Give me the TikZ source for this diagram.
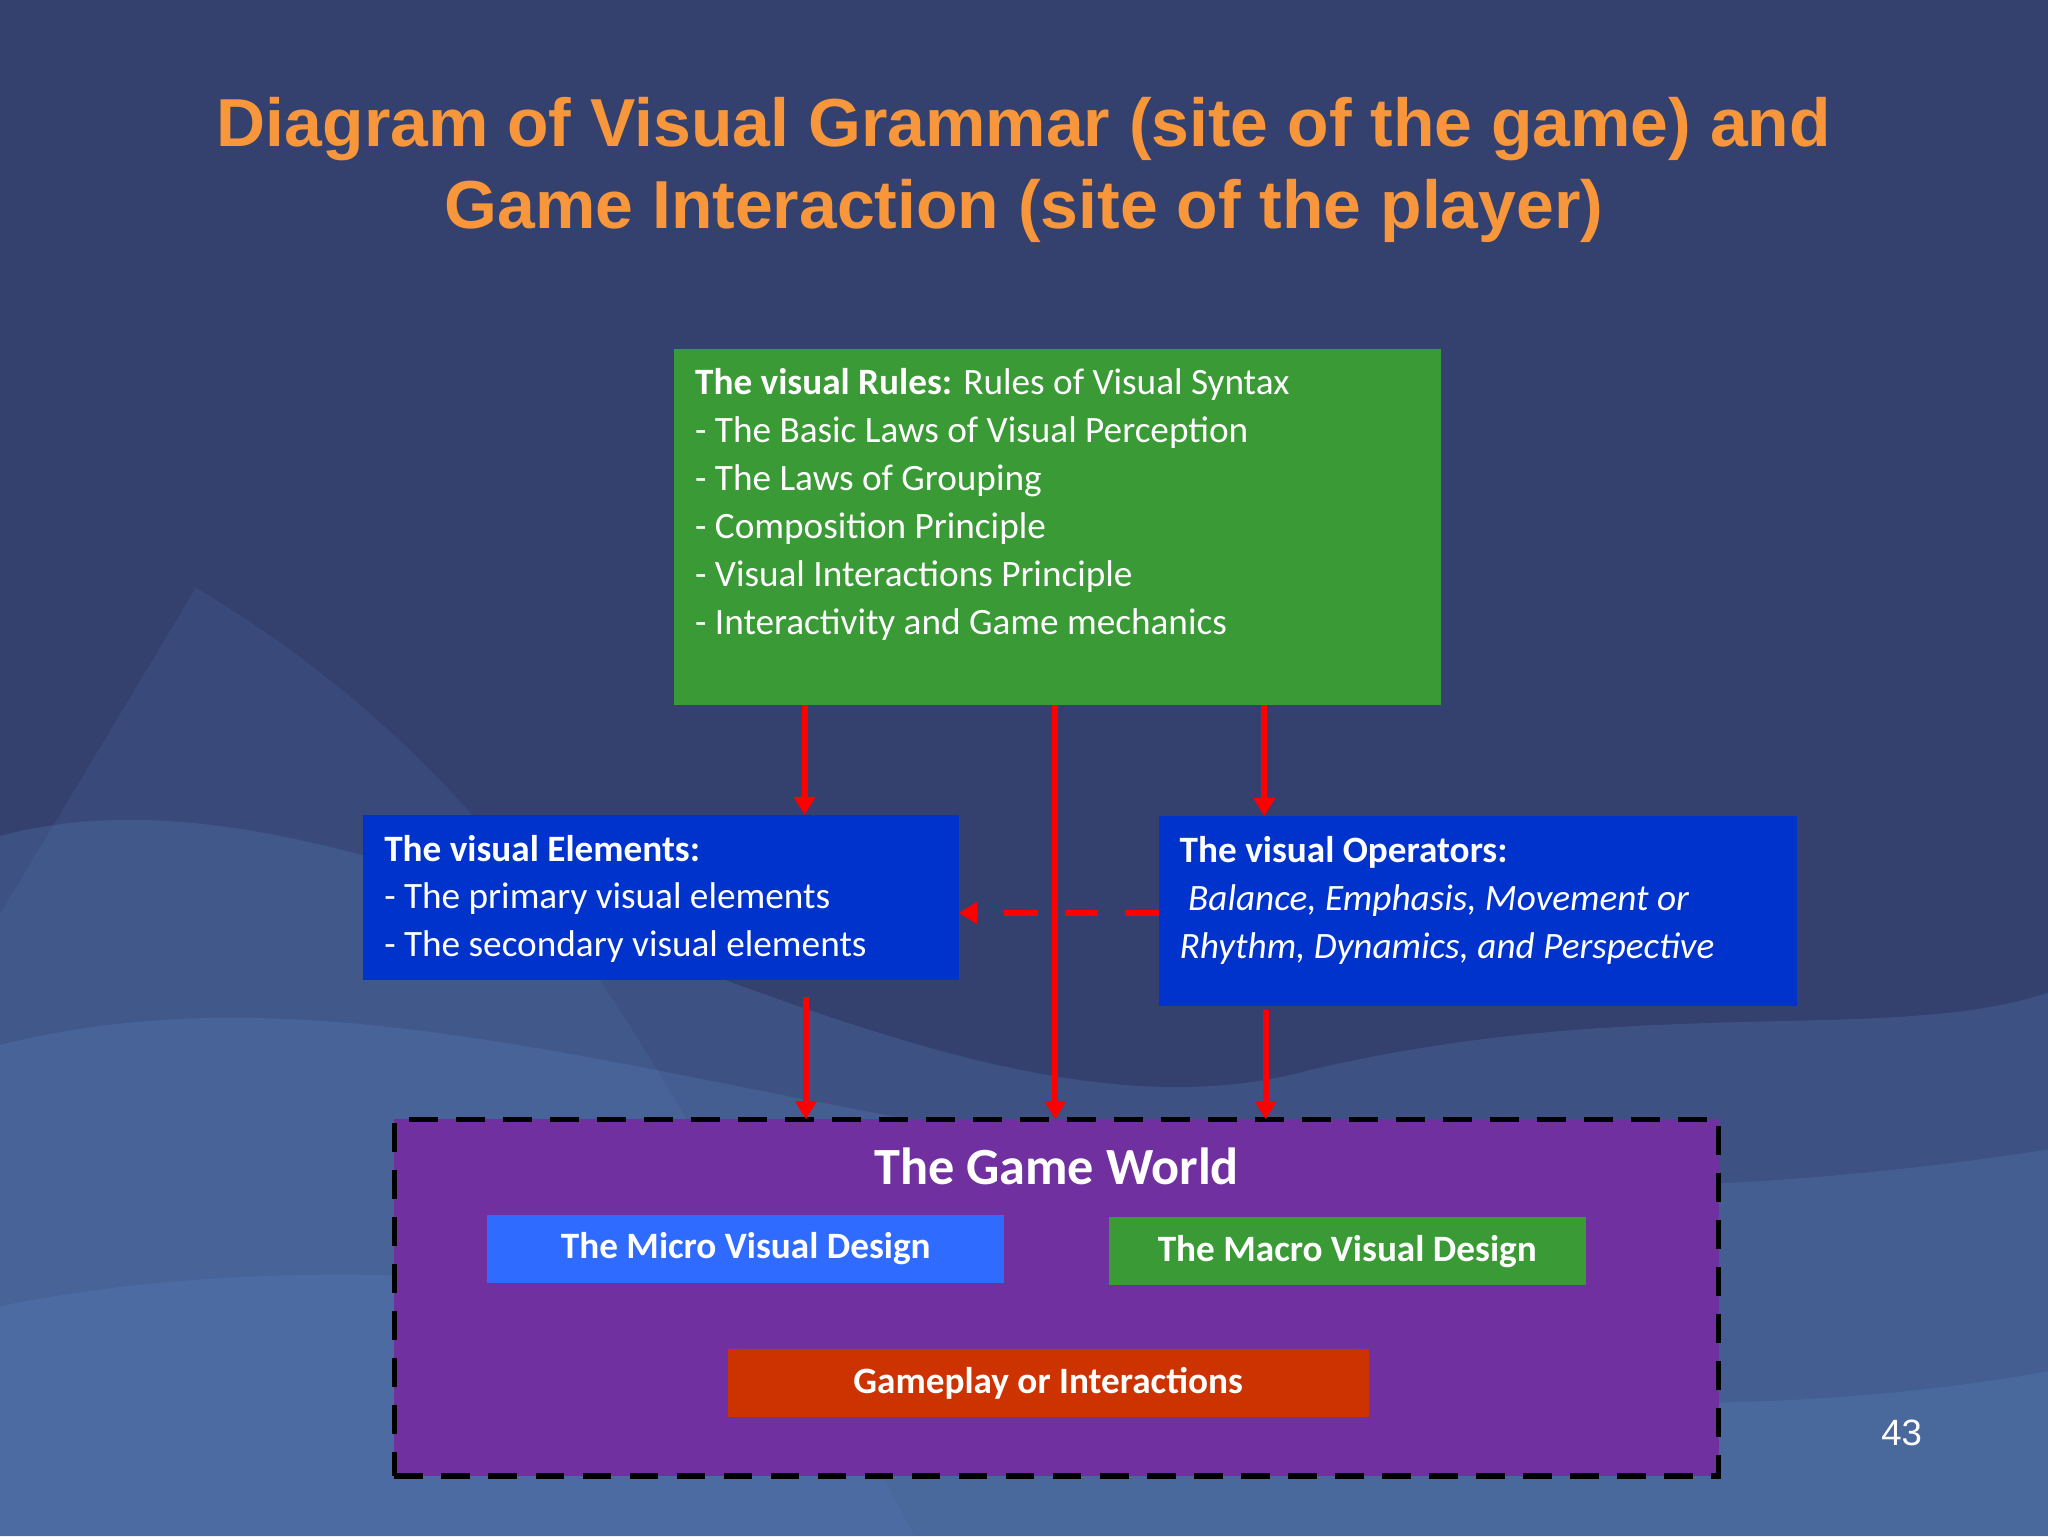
\documentclass[tikz,border=0pt]{standalone}
\usepackage{fontspec}
\setmainfont{Carlito}
\newfontfamily\titlefont{Liberation Sans}
\usetikzlibrary{arrows.meta}
\definecolor{bg}{HTML}{34406E}
\definecolor{bgl}{HTML}{5A86C0}
\definecolor{gbox}{HTML}{3A9A35}
\definecolor{bbox}{HTML}{0033CC}
\definecolor{pbox}{HTML}{7030A0}
\definecolor{mbox}{HTML}{2F6BFF}
\definecolor{obox}{HTML}{CC3300}
\definecolor{ttl}{HTML}{F7963A}
\tikzset{
 box/.style={inner sep=0pt, outer sep=0pt},
 txt/.style={text=white, font=\fontsize{28.5}{36.7}\selectfont, align=left, anchor=north west, inner sep=0pt},
 lbl/.style={text=white, font=\fontsize{28.5}{32}\selectfont\bfseries},
 arr/.style={red, line width=4.5pt, -{Triangle[length=14pt,width=16pt]}},
}
\begin{document}
\begin{tikzpicture}[x=1pt,y=-1pt]
\useasboundingbox (0,0) rectangle (1568,1176);
\fill[bg] (0,0) rectangle (1568,1176);
\fill[bgl,opacity=0.25] (0,640) .. controls (300,560) and (700,900) .. (1000,820) .. controls (1250,760) and (1450,800) .. (1568,760) -- (1568,1176) -- (0,1176) -- cycle;
\fill[bgl,opacity=0.25] (0,800) .. controls (400,700) and (800,1000) .. (1568,880) -- (1568,1176) -- (0,1176) -- cycle;
\fill[bgl,opacity=0.15] (150,450) .. controls (400,600) and (500,800) .. (700,1176) -- (0,1176) -- (0,700) -- cycle;
\fill[bgl,opacity=0.25] (0,1000) .. controls (500,900) and (1000,1150) .. (1568,1050) -- (1568,1176) -- (0,1176) -- cycle;
\node[text=ttl, font=\titlefont\fontsize{52}{63}\selectfont\bfseries, align=center] (title) at (784,130) {Diagram of Visual Grammar (site of the game) and\\Game Interaction (site of the player)};
% boxes
\node[box, fill=gbox, minimum width=587pt, minimum height=273pt, anchor=north west] (rules) at (516,267) {};
\node[txt] (rulest) at (532,282) {\textbf{The visual Rules:} Rules of Visual Syntax\\- The Basic Laws of Visual Perception\\- The Laws of Grouping\\- Composition Principle\\- Visual Interactions Principle\\- Interactivity and Game mechanics};
\node[box, fill=bbox, minimum width=456pt, minimum height=126pt, anchor=north west] (elem) at (278,624) {};
\node[txt] (elemt) at (294,639) {\textbf{The visual Elements:}\\- The primary visual elements\\- The secondary visual elements};
\node[box, fill=bbox, minimum width=489pt, minimum height=145pt, anchor=north west] (oper) at (887,625) {};
\node[txt] (opert) at (903,640) {\textbf{The visual Operators:}\\\itshape\ Balance, Emphasis, Movement or\\\itshape Rhythm, Dynamics, and Perspective};
\node[box, fill=pbox, draw=black, line width=4pt, dash pattern=on 22pt off 14pt, minimum width=1014pt, minimum height=273pt, anchor=north west] (world) at (302,857) {};
\node[text=white, font=\fontsize{40}{42}\selectfont\bfseries] (worldt) at (809,893) {The Game World};
\node[box, fill=mbox, minimum width=396pt, minimum height=52pt, anchor=north west] (micro) at (373,930) {};
\node[lbl] at (micro.center) {The Micro Visual Design};
\node[box, fill=gbox, minimum width=365pt, minimum height=52pt, anchor=north west] (macro) at (849,932) {};
\node[lbl] at (macro.center) {The Macro Visual Design};
\node[box, fill=obox, minimum width=491pt, minimum height=52pt, anchor=north west] (game) at (557,1033) {};
\node[lbl] at (game.center) {Gameplay or Interactions};
\node[text=white, font=\titlefont\fontsize{28}{30}\selectfont] (pg) at (1456,1097) {43};
% arrows
\draw[arr] (rules.south -| 616,0) -- (elem.north -| 616,0);
\draw[arr] (rules.south -| 968,0) -- (oper.north -| 968,0);
\draw[arr] (rules.south -| 808,0) -- (world.north -| 808,0);
\draw[arr] (617,763) -- (world.north -| 617,0);
\draw[arr] (969,773) -- (world.north -| 969,0);
\draw[red, line width=4.5pt, dash pattern=on 26pt off 20pt, -{Triangle[length=14pt,width=16pt]}] (oper.west |- 0,699) -- (elem.east |- 0,699);
\end{tikzpicture}
\end{document}
